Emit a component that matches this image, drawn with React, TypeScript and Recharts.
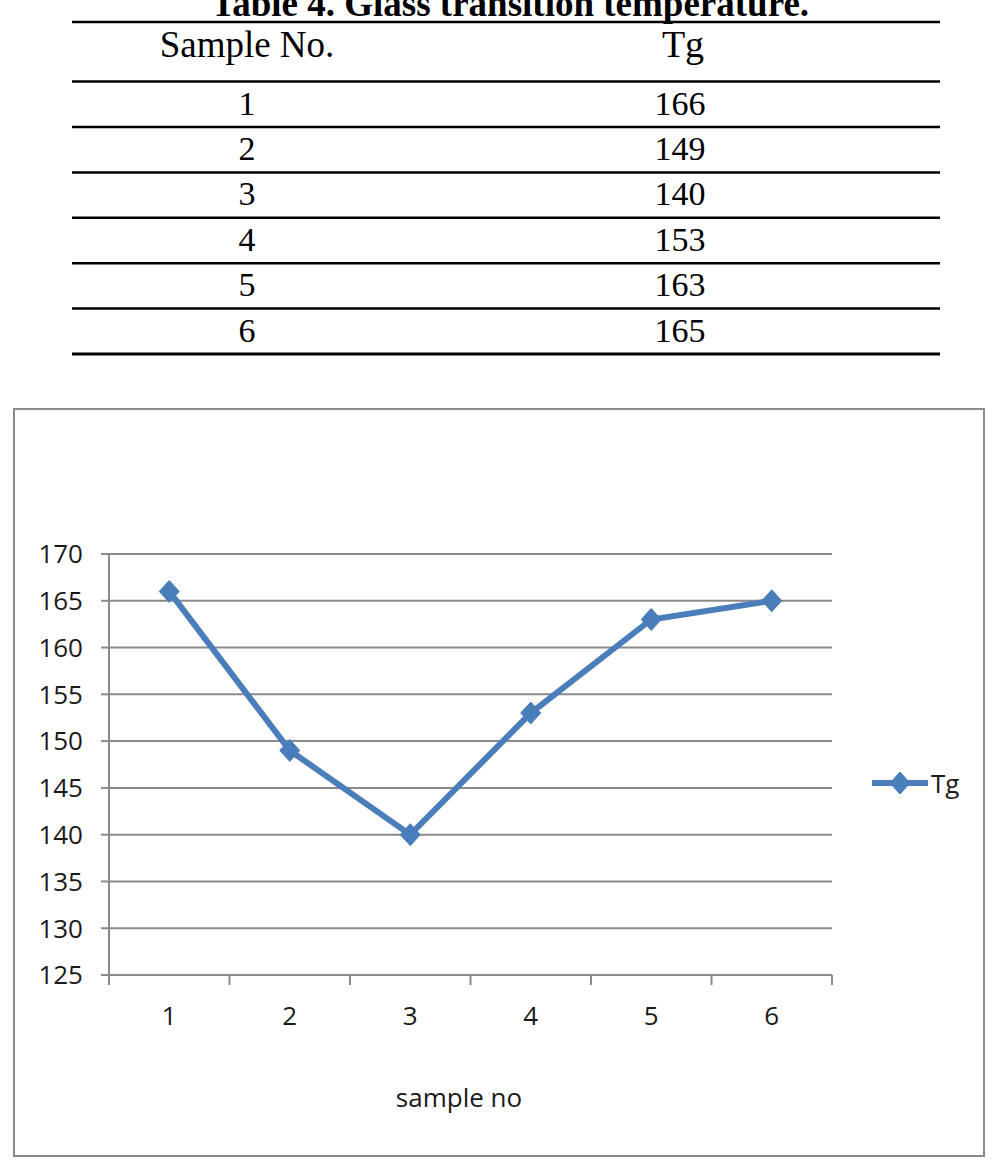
import React from 'react';
import { LineChart, Line, XAxis, YAxis, CartesianGrid } from 'recharts';

// data
const samples = [1, 2, 3, 4, 5, 6];
const tgValues = [166, 149, 140, 153, 163, 165];
const yTicks = [125, 130, 135, 140, 145, 150, 155, 160, 165, 170];
const boundaryTicks = [0.5, 1.5, 2.5, 3.5, 4.5, 5.5, 6.5];

const data = samples.map((s, i) => ({ sample: s, Tg: tgValues[i] }));

const BLUE = '#4a7ebb';
const GRID = '#8a8a8a';
const CHART_FONT = '"Open Sans", sans-serif';
const SERIF = '"Liberation Serif", "Times New Roman", serif';

const Diamond = (props: any) => {
  const { cx, cy } = props;
  if (cx == null || cy == null) return null;
  return (
    <path
      d={`M${cx},${cy - 11} L${cx + 10},${cy} L${cx},${cy + 11} L${cx - 10},${cy} Z`}
      fill={BLUE}
      stroke={BLUE}
      strokeWidth={1}
    />
  );
};

const YTick = ({ x, y, payload }: any) => (
  <text x={x} y={y} dy="0.36em" textAnchor="end" fontSize={26} fontFamily={CHART_FONT} fill="#1a1a1a">
    {payload.value}
  </text>
);

const XTick = ({ x, y, payload }: any) => (
  <text x={x} y={y + 38} textAnchor="middle" fontSize={26} fontFamily={CHART_FONT} fill="#1a1a1a">
    {payload.value}
  </text>
);

// table rules: top rule, header rule, then one rule under each row
const rowLines = [22, 81.5, 127, 172.4, 217.8, 263.2, 308.6, 354];

const Table = () => (
  <svg width={1001} height={380} style={{ position: 'absolute', left: 0, top: 0 }}>
    <text x={510} y={16} textAnchor="middle" fontSize={37} fontWeight="bold" fontFamily={SERIF}>
      Table 4. Glass transition temperature.
    </text>
    {rowLines.map((y, i) => (
      <line key={i} x1={72} x2={940} y1={y} y2={y} stroke="#000" strokeWidth={i === rowLines.length - 1 ? 3 : 2.5} />
    ))}
    <text x={247} y={57} textAnchor="middle" fontSize={37} fontFamily={SERIF}>Sample No.</text>
    <text x={683} y={57} textAnchor="middle" fontSize={38} fontFamily={SERIF}>Tg</text>
    {samples.map((s, i) => (
      <g key={s}>
        <text x={247} y={rowLines[i + 1] + 33} textAnchor="middle" fontSize={34} fontFamily={SERIF}>{s}</text>
        <text x={680} y={rowLines[i + 1] + 33} textAnchor="middle" fontSize={34} fontFamily={SERIF}>{tgValues[i]}</text>
      </g>
    ))}
  </svg>
);

export default function App() {
  return (
    <div style={{ position: 'absolute', left: 0, top: 0, width: 1001, height: 1174, background: '#fff' }}>
      <Table />

      <div
        style={{
          position: 'absolute',
          left: 13,
          top: 408,
          width: 972,
          height: 749,
          border: `2px solid ${GRID}`,
          boxSizing: 'border-box'
        }}
      />

      <div style={{ position: 'absolute', left: 0, top: 408 }}>
        <LineChart width={1001} height={750} data={data} margin={{ top: 146, right: 169, bottom: 111, left: 0 }}>
          <CartesianGrid horizontal vertical={false} stroke={GRID} strokeWidth={2} />
          {/* axis line with tick marks between categories */}
          <XAxis
            dataKey="sample"
            type="number"
            domain={[0.5, 6.5]}
            ticks={boundaryTicks}
            interval={0}
            height={12}
            tickSize={10}
            tickFormatter={() => ''}
            axisLine={{ stroke: GRID, strokeWidth: 2 }}
            tickLine={{ stroke: GRID, strokeWidth: 2 }}
          />
          {/* category labels */}
          <XAxis
            xAxisId="labels"
            dataKey="sample"
            type="number"
            domain={[0.5, 6.5]}
            ticks={samples}
            interval={0}
            height={60}
            tickSize={0}
            tickMargin={0}
            axisLine={false}
            tickLine={false}
            tick={<XTick />}
          />
          <YAxis
            type="number"
            domain={[125, 170]}
            ticks={yTicks}
            interval={0}
            width={109}
            tickSize={8}
            tickMargin={18}
            axisLine={{ stroke: GRID, strokeWidth: 2 }}
            tickLine={{ stroke: GRID, strokeWidth: 2 }}
            tick={<YTick />}
          />
          <Line
            dataKey="Tg"
            stroke={BLUE}
            strokeWidth={6}
            dot={<Diamond />}
            activeDot={false}
            isAnimationActive={false}
          />
        </LineChart>
      </div>

      {/* legend and axis title */}
      <svg width={1001} height={1174} style={{ position: 'absolute', left: 0, top: 0, pointerEvents: 'none' }}>
        <line x1={872} x2={928} y1={783} y2={783} stroke={BLUE} strokeWidth={6} />
        <Diamond cx={900} cy={783} />
        <text x={931} y={793} fontSize={26} fontFamily={CHART_FONT} fill="#1a1a1a">Tg</text>
        <text x={459} y={1107} textAnchor="middle" fontSize={26} fontFamily={CHART_FONT} fill="#1a1a1a">
          sample no
        </text>
      </svg>
    </div>
  );
}
